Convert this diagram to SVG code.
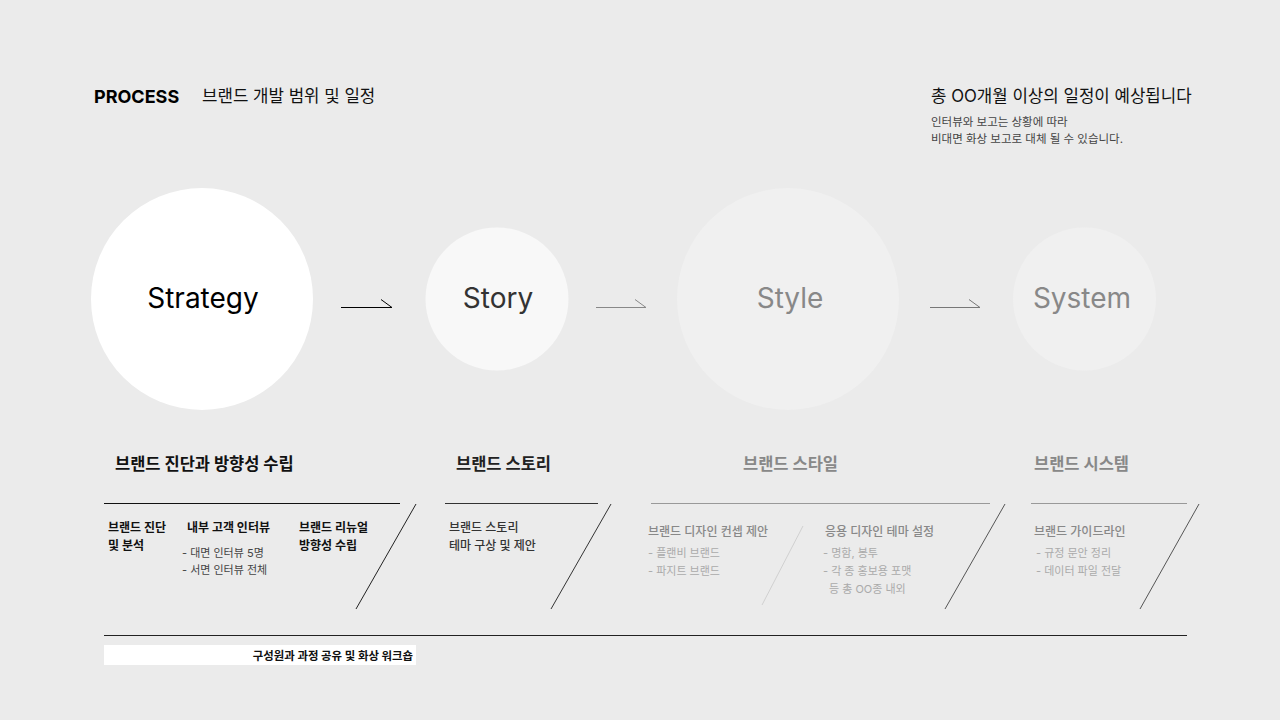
<svg xmlns="http://www.w3.org/2000/svg" width="1280" height="720" viewBox="0 0 1280 720">
<style>
text{font-family:Inter,"Noto Sans CJK KR","Noto Sans",sans-serif}
.big{font-size:28px;text-anchor:middle}
.h{font-size:16.5px;font-weight:700}
.s{font-size:12px;font-weight:700}
.m{font-size:12px;font-weight:500}
.d{font-size:11px}
.ln{fill:none;stroke-width:1}
</style>
<rect width="1280" height="720" fill="#ebebeb"/>
<g id="header">
<text x="94" y="103" font-size="18" font-weight="700" fill="#000">PROCESS</text>
<text x="202" y="102" font-size="16.8" fill="#111">브랜드 개발 범위 및 일정</text>
<text x="931" y="102" font-size="16.8" fill="#111">총 OO개월 이상의 일정이 예상됩니다</text>
<text x="931" y="126" font-size="11.5" fill="#444">인터뷰와 보고는 상황에 따라</text>
<text x="931" y="143" font-size="11.5" fill="#444">비대면 화상 보고로 대체 될 수 있습니다.</text>
</g>
<g id="node-strategy">
<circle cx="202" cy="299" r="111" fill="#ffffff"/>
<text x="203" y="308" class="big" fill="#000">Strategy</text>
</g>
<g id="node-story">
<circle cx="497" cy="299" r="71.5" fill="#f8f8f8"/>
<text x="498" y="308" class="big" fill="#333">Story</text>
</g>
<g id="node-style">
<circle cx="788" cy="299" r="111" fill="#f0f0f0"/>
<text x="790" y="308" class="big" fill="#888">Style</text>
</g>
<g id="node-system">
<circle cx="1084.5" cy="299" r="71.5" fill="#f0f0f0"/>
<text x="1082" y="308" class="big" fill="#888">System</text>
</g>
<g id="connectors" class="ln">
<path d="M341 307.5H392L381 299.5" stroke="#000"/>
<path d="M596 307.5H646L635 299.5" stroke="#888"/>
<path d="M930 307.5H980L969 299.5" stroke="#777"/>
</g>
<g id="section-strategy">
<text x="115" y="470" class="h" fill="#111">브랜드 진단과 방향성 수립</text>
<line x1="104" y1="503.5" x2="400" y2="503.5" stroke="#111" class="ln"/>
<line x1="416" y1="504" x2="356" y2="609" stroke="#222" class="ln"/>
<text x="108" y="532" class="s" fill="#111">브랜드 진단</text>
<text x="108" y="550" class="s" fill="#111">및 분석</text>
<text x="187" y="532" class="s" fill="#111">내부 고객 인터뷰</text>
<text x="182" y="557" class="d" fill="#444">- 대면 인터뷰 5명</text>
<text x="182" y="574" class="d" fill="#444">- 서면 인터뷰 전체</text>
<text x="299" y="532" class="s" fill="#111">브랜드 리뉴얼</text>
<text x="299" y="550" class="s" fill="#111">방향성 수립</text>
</g>
<g id="section-story">
<text x="456" y="470" class="h" fill="#222">브랜드 스토리</text>
<line x1="445" y1="503.5" x2="598" y2="503.5" stroke="#333" class="ln"/>
<line x1="611" y1="504" x2="551" y2="609" stroke="#333" class="ln"/>
<text x="449" y="532" class="m" fill="#333">브랜드 스토리</text>
<text x="449" y="550" class="m" fill="#333">테마 구상 및 제안</text>
</g>
<g id="section-style">
<text x="743" y="470" class="h" fill="#888" font-weight="500">브랜드 스타일</text>
<line x1="651" y1="503.5" x2="990" y2="503.5" stroke="#999" class="ln"/>
<line x1="1005" y1="504" x2="945" y2="609" stroke="#555" class="ln"/>
<line x1="803" y1="526" x2="762" y2="605" stroke="#d0d0d0" class="ln"/>
<text x="648" y="536" class="m" fill="#888">브랜드 디자인 컨셉 제안</text>
<text x="648" y="557" class="d" fill="#aaa">- 플랜비 브랜드</text>
<text x="648" y="575" class="d" fill="#aaa">- 파지트 브랜드</text>
<text x="825" y="536" class="m" fill="#888">응용 디자인 테마 설정</text>
<text x="823" y="557" class="d" fill="#aaa">- 명함, 봉투</text>
<text x="823" y="575" class="d" fill="#aaa">- 각 종 홍보용 포맷</text>
<text x="829" y="593" class="d" fill="#aaa">등 총 OO종 내외</text>
</g>
<g id="section-system">
<text x="1034" y="470" class="h" fill="#888" font-weight="500">브랜드 시스템</text>
<line x1="1031" y1="503.5" x2="1187" y2="503.5" stroke="#999" class="ln"/>
<line x1="1199" y1="504" x2="1140" y2="609" stroke="#555" class="ln"/>
<text x="1034" y="536" class="m" fill="#888">브랜드 가이드라인</text>
<text x="1036" y="557" class="d" fill="#aaa">- 규정 문안 정리</text>
<text x="1036" y="575" class="d" fill="#aaa">- 데이터 파일 전달</text>
</g>
<g id="footer">
<line x1="104" y1="635.5" x2="1187" y2="635.5" stroke="#222" class="ln"/>
<rect x="104" y="645" width="312" height="20" fill="#ffffff"/>
<text x="413" y="659.5" font-size="11.4" font-weight="700" fill="#111" text-anchor="end">구성원과 과정 공유 및 화상 워크숍</text>
</g>
</svg>
